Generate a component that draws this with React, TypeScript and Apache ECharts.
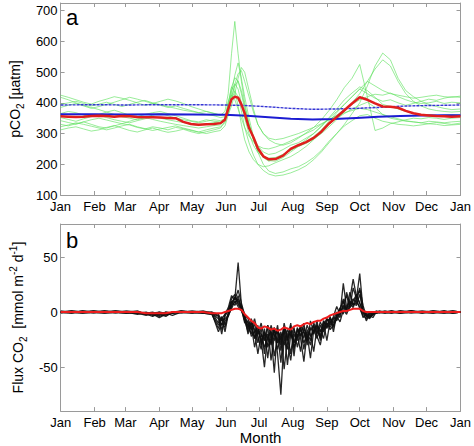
import { useEffect, useRef } from "react";
import * as echarts from "echarts";

// ---- axes ----
const MONTHS = ["Jan", "Feb", "Mar", "Apr", "May", "Jun", "Jul", "Aug", "Sep", "Oct", "Nov", "Dec", "Jan"];
const MONTH_START = [0, 31, 59, 90, 120, 151, 181, 212, 243, 273, 304, 334, 365];
const PCO2_TICKS = [100, 200, 300, 400, 500, 600, 700];
const FLUX_TICKS = [-50, 0, 50];

// ---- panel a: surface pCO2 (uatm), one line per year ----
const pco2Days = [
  0, 7, 14, 21, 28, 35, 42, 49, 56, 63, 70, 77, 84, 91, 98, 105, 112, 119, 126, 133, 140,
  146, 150, 153, 156, 159, 162, 165, 168, 172, 176, 180, 185, 190, 196,
  203, 210, 217, 224, 231, 238, 245, 252, 259, 266, 273, 280, 287, 294, 301, 308, 315, 322, 329, 336, 343, 350, 357,
  365,
];

const pco2Year1 = [
  425, 418, 410, 402, 396, 405, 412, 420, 415, 408, 400, 392, 398, 405, 412, 406, 398, 388, 380, 372, 365,
  360, 372, 430, 560, 665, 560, 470, 400, 330, 280, 245, 222, 210, 218,
  232, 245, 262, 280, 300, 322, 350, 372, 395, 420, 445, 430, 415, 405, 410, 400, 392, 398, 405, 412, 408, 415, 420,
  418,
];
const pco2Year2 = [
  330, 325, 332, 338, 330, 322, 318, 325, 332, 328, 320, 315, 322, 318, 312, 320, 316, 310, 305, 312, 318,
  322, 335, 370, 430, 490, 530, 480, 420, 350, 290, 240, 200, 178, 170,
  175, 185, 192, 205, 222, 245, 275, 300, 330, 365, 400, 455, 520, 562, 540, 480, 440, 420, 405, 395, 388, 382, 378,
  380,
];
const pco2Year3 = [
  365, 372, 368, 360, 355, 362, 370, 376, 368, 360, 355, 362, 368, 372, 365, 358, 350, 342, 338, 345, 340,
  338, 350, 395, 450, 482, 470, 430, 380, 330, 290, 260, 240, 232, 236,
  248, 262, 270, 285, 300, 325, 352, 380, 410, 432, 452, 440, 418, 395, 388, 380, 372, 366, 360, 362, 358, 360, 362,
  360,
];
const pco2Year4 = [
  312, 318, 322, 315, 308, 312, 320, 326, 318, 310, 305, 312, 318, 310, 304, 308, 314, 306, 300, 306, 312,
  318, 340, 400, 452, 440, 390, 330, 280, 240, 215, 200, 192, 195, 205,
  215, 225, 240, 258, 280, 305, 330, 350, 365, 380, 392, 402, 385, 362, 350, 345, 340, 338, 335, 340, 338, 335, 338,
  340,
];
const pco2Year5 = [
  385, 392, 398, 390, 382, 388, 395, 402, 410, 418, 412, 405, 398, 392, 385, 390, 382, 375, 368, 372, 366,
  360, 362, 375, 410, 460, 495, 505, 470, 420, 370, 330, 300, 280, 268,
  262, 270, 285, 302, 320, 345, 375, 410, 450, 480, 525, 420, 310, 318, 332, 338, 345, 350, 348, 352, 350, 346, 350,
  352,
];
const pco2Year6 = [
  342, 336, 330, 338, 345, 350, 344, 338, 332, 340, 348, 352, 346, 340, 335, 330, 326, 322, 318, 322, 326,
  328, 345, 405, 425, 410, 380, 350, 320, 292, 272, 260, 252, 250, 256,
  265, 276, 288, 300, 312, 330, 345, 358, 368, 375, 382, 378, 370, 362, 355, 348, 342, 338, 335, 332, 336, 333, 330,
  334,
];
const pco2Year7 = [
  418, 410, 400, 392, 385, 378, 370, 362, 355, 350, 345, 352, 360, 366, 358, 350, 345, 340, 335, 340, 345,
  342, 348, 372, 420, 455, 472, 440, 390, 330, 280, 245, 225, 212, 210,
  222, 240, 258, 272, 290, 312, 340, 368, 395, 420, 445, 470, 455, 440, 430, 425, 420, 415, 418, 422, 425, 420, 418,
  422,
];
const pco2Year8 = [
  322, 328, 335, 330, 324, 318, 312, 318, 325, 330, 322, 316, 310, 315, 320, 325, 318, 312, 305, 300, 306,
  310, 325, 360, 410, 438, 420, 375, 320, 270, 230, 200, 180, 168, 162,
  165, 172, 182, 195, 215, 240, 270, 300, 325, 342, 358, 362, 350, 340, 335, 330, 328, 325, 328, 332, 330, 326, 328,
  330,
];
const pco2Year9 = [
  395, 400, 405, 398, 390, 396, 402, 395, 388, 395, 402, 408, 400, 394, 388, 382, 376, 372, 368, 362, 358,
  352, 355, 362, 390, 430, 480, 515, 500, 440, 380, 330, 300, 285, 280,
  284, 292, 300, 310, 320, 332, 345, 360, 378, 395, 410, 420, 428, 425, 432, 420, 410, 402, 398, 400, 405, 398, 402,
  400,
];
const pco2Year10 = [
  352, 346, 340, 348, 355, 360, 352, 345, 340, 335, 342, 348, 355, 350, 345, 340, 336, 330, 326, 332, 336,
  335, 345, 385, 440, 462, 445, 400, 350, 300, 262, 238, 225, 220, 222,
  232, 246, 258, 268, 282, 300, 322, 345, 372, 400, 430, 470, 510, 540, 520, 470, 430, 405, 390, 380, 375, 372, 370,
  372,
];
const pco2Years = [
  pco2Year1, pco2Year2, pco2Year3, pco2Year4, pco2Year5,
  pco2Year6, pco2Year7, pco2Year8, pco2Year9, pco2Year10,
];

const pco2Mean = [
  356, 355, 354, 355, 357, 358, 357, 355, 357, 356, 354, 353, 353, 352, 351, 350, 338, 331, 329, 330, 331,
  334, 345, 380, 412, 420, 417, 395, 366, 318, 288, 252, 226, 216, 217,
  228, 250, 262, 272, 286, 306, 333, 354, 376, 398, 418, 410, 398, 388, 387, 384, 374, 366, 361, 359, 357, 356, 355,
  356,
];

// atmospheric reference curves
const refDays = [0, 30, 60, 90, 120, 150, 170, 190, 210, 230, 250, 270, 290, 310, 330, 350, 365];
const atmPco2 = [393, 394, 393, 394, 394, 393, 391, 387, 382, 379, 380, 382, 385, 389, 391, 392, 393];
const refPco2 = [363, 363, 362, 363, 362, 361, 358, 353, 348, 346, 347, 351, 355, 357, 359, 360, 360];

// ---- panel b: CO2 flux (mmol m-2 d-1), one line per year ----
const fluxDays = [
  0, 10, 20, 30, 40, 50, 60, 70, 78, 84, 90, 96, 102, 110, 120, 130, 138,
  144, 147, 150, 153, 156, 159, 162, 165, 168, 171, 174, 177, 180, 183, 186, 189, 192, 195, 198, 201,
  204, 207, 210, 213, 216, 219, 222, 225, 228, 231, 234, 237, 240, 243, 246, 249, 252, 255, 258, 261,
  264, 267, 270, 273, 276, 279, 282, 285, 288, 291,
  296, 302, 310, 320, 330, 340, 350, 358, 365,
];

const fluxYear1 = [
  0, 1, 0, -1, 0, 1, 0, -1, -3, -1, 0, -2, 0, 1, 0, -1, -2,
  -15, -5, -18, -2, 8, 12, 45, 6, -8, -12, -20, -10, -28, -14, -38, -12, -20, -55, -15, -30,
  -10, -25, -12, -40, -14, -22, -10, -30, -8, -18, -12, -22, -8, -15, -5, -10, -3, -2, 5, 0,
  8, 4, 12, 35, 2, -3, -5, -2, 0, 1,
  0, -1, 1, 0, -1, 1, 0, -1, 0,
];
const fluxYear2 = [
  0, -1, 0, 1, 0, 0, -1, 0, -2, -4, -1, -3, -1, 0, 1, 0, -1,
  -3, -16, -8, -4, 5, 14, 10, 4, -6, -16, -9, -24, -12, -30, -15, -42, -18, -26, -12, -35,
  -16, -48, -20, -28, -15, -24, -45, -18, -26, -12, -20, -9, -16, -6, -12, -4, 5, -2, 26, 4,
  10, 6, 15, 8, 0, -4, -1, -3, 0, 0,
  1, 0, -1, 0, 1, 0, -1, 0, 0,
];
const fluxYear3 = [
  1, 0, -1, 0, 1, 0, 0, -1, 0, -2, -5, -2, 0, -1, 0, 1, -1,
  -18, -10, -14, 0, 10, 6, 15, 2, -4, -20, -12, -32, -18, -25, -50, -20, -30, -15, -38, -75,
  -22, -34, -16, -28, -20, -36, -14, -22, -30, -10, -16, -24, -8, -14, -4, -18, -2, 3, 10, 2,
  18, 6, 9, 5, -5, -2, -4, 0, -1, 0,
  -1, 0, 1, 0, 0, -1, 1, 0, 0,
];
const fluxYear4 = [
  0, 0, 1, 0, -1, 0, 1, 0, -1, 0, -3, 0, -1, 0, -1, 0, -1,
  -6, -20, -4, 2, 12, 16, 8, 3, -10, -8, -22, -18, -14, -26, -20, -32, -24, -14, -28, -20,
  -52, -24, -18, -32, -22, -16, -28, -20, -42, -16, -24, -12, -18, -10, -14, -7, 0, -5, 8, 15,
  4, 22, 12, 3, -3, -6, 0, -2, 1, 0,
  0, 1, 0, -1, 0, 0, 1, -1, 0,
];
const fluxYear5 = [
  -1, 0, 0, 1, 0, -1, 0, 1, -2, -1, -2, -4, 0, 0, -1, 0, 0,
  -10, -4, -12, -2, 6, 9, 12, 5, -2, -14, -6, -18, -38, -20, -26, -12, -44, -22, -16, -26,
  -14, -20, -38, -16, -24, -12, -18, -26, -14, -20, -8, -26, -12, -6, -10, -5, -8, -1, 6, 2,
  12, 30, 14, 20, -2, -1, -3, -5, 0, -1,
  0, 0, -1, 1, 0, -1, 0, 1, 0,
];
const fluxYear6 = [
  0, 1, 0, 0, -1, 0, -1, 0, -1, -2, 0, -1, -3, 0, 0, -1, 0,
  -2, -8, -6, -3, 3, 10, 5, 1, -5, -10, -16, -6, -20, -10, -24, -30, -12, -22, -18, -46,
  -14, -26, -10, -34, -18, -14, -24, -12, -20, -36, -14, -18, -10, -26, -8, -12, -4, -9, 2, -2,
  6, 10, 16, 8, 1, -8, -2, -1, 0, 0,
  0, -1, 0, 1, 0, 0, -1, 0, 0,
];
const fluxYear7 = [
  0, -1, 1, 0, 0, 1, 0, -2, -1, -3, -2, 0, -1, 1, 0, 0, -1,
  -4, -12, -2, 4, 15, 11, 20, 8, -3, -6, -14, -24, -16, -20, -32, -24, -16, -40, -24, -18,
  -30, -16, -22, -14, -32, -20, -18, -26, -16, -12, -22, -30, -14, -10, -16, -12, -6, 4, -2, 18,
  7, 12, 9, 22, 6, -4, -6, -2, -1, 0,
  -1, 0, 0, 1, -1, 0, 0, 1, 0,
];
const fluxYear8 = [
  0, 0, -1, 0, 1, 0, -1, 0, -2, -1, -4, -2, -1, 0, 0, -1, -2,
  -12, -6, -2, 1, 9, 13, 7, 2, -8, -18, -10, -16, -22, -34, -18, -24, -28, -16, -34, -22,
  -18, -28, -44, -20, -26, -14, -34, -16, -22, -18, -12, -16, -24, -8, -6, -14, -3, 2, 12, 0,
  4, 8, 6, 16, 2, -3, -5, 0, -1, 0,
  0, 1, -1, 0, 0, 1, 0, -1, 0,
];
const fluxYears = [
  fluxYear1, fluxYear2, fluxYear3, fluxYear4,
  fluxYear5, fluxYear6, fluxYear7, fluxYear8,
];

const fluxMean = [
  0, 0, 0, 0, 0, 0, 0, 0, -1, -1, -1, -1, 0, 0, 0, 0, -1,
  -1, -1, 0, 1, 2, 3, 3, 2, -2, -5, -8, -10, -14, -15, -13, -14, -16, -15, -17, -16,
  -14, -15, -16, -13, -12, -13, -11, -10, -11, -9, -8, -8, -6, -5, -3, -2, -1, 0, 1, 1,
  2, 3, 3, 3, 1, 0, 0, 0, 0, 0,
  0, 0, 0, 0, 0, 0, 0, 0, 0,
];

// ---- styling ----
const FONT = "'Liberation Sans', Arial, Helvetica, sans-serif";
const FRAME = "#9a9a9a";

const pairs = (xs: number[], ys: number[]) => xs.map((x, i) => [x, ys[i]]);

const monthAxis = (gridIndex: number, position: "top" | "bottom", labelled: boolean, extra: object = {}) => ({
  type: "value",
  gridIndex,
  min: 0,
  max: 365,
  position,
  axisLine: { show: true, onZero: false, lineStyle: { color: FRAME, width: 1 } },
  axisTick: { show: true, inside: true, length: 4, customValues: MONTH_START, lineStyle: { color: FRAME } },
  axisLabel: {
    show: labelled,
    customValues: MONTH_START,
    formatter: (v: number) => MONTHS[MONTH_START.indexOf(Math.round(v))] ?? "",
    color: "#000",
    fontSize: 13,
    fontFamily: FONT,
    margin: 5,
  },
  splitLine: { show: false },
  ...extra,
});

const valueAxis = (
  gridIndex: number,
  position: "left" | "right",
  min: number,
  max: number,
  ticks: number[],
  extra: object = {}
) => ({
  type: "value",
  gridIndex,
  min,
  max,
  position,
  axisLine: { show: true, onZero: false, lineStyle: { color: FRAME, width: 1 } },
  axisTick: { show: true, inside: true, length: 4, customValues: ticks, lineStyle: { color: FRAME } },
  axisLabel: {
    show: position === "left",
    customValues: ticks,
    color: "#000",
    fontSize: 13,
    fontFamily: FONT,
    margin: 3,
  },
  splitLine: { show: false },
  ...extra,
});

const nameRich = {
  t: { fontSize: 14, fontFamily: FONT, color: "#000", lineHeight: 20 },
  sub: { fontSize: 10, fontFamily: FONT, color: "#000", lineHeight: 10, verticalAlign: "bottom" },
  sup: { fontSize: 10, fontFamily: FONT, color: "#000", lineHeight: 10, verticalAlign: "top" },
};

export default function App() {
  const ref = useRef<HTMLDivElement>(null);

  useEffect(() => {
    if (!ref.current) return;
    const chart = echarts.init(ref.current, null, { renderer: "svg" });

    const greenSeries = pco2Years.map((ys, k) => ({
      name: `pCO2 ${k + 1}`,
      type: "line",
      xAxisIndex: 0,
      yAxisIndex: 0,
      data: pairs(pco2Days, ys),
      showSymbol: false,
      symbol: "none",
      lineStyle: { color: "rgba(95, 225, 95, 0.8)", width: 0.8 },
      silent: true,
    }));

    const blackSeries = fluxYears.map((ys, k) => ({
      name: `flux ${k + 1}`,
      type: "line",
      xAxisIndex: 2,
      yAxisIndex: 2,
      data: pairs(fluxDays, ys),
      showSymbol: false,
      symbol: "none",
      lineStyle: { color: "rgba(15, 15, 15, 0.9)", width: 1.3 },
      silent: true,
    }));

    chart.setOption({
      animation: false,
      backgroundColor: "#fff",
      grid: [
        { left: 54, top: 3, width: 408, height: 192 },
        { left: 54, top: 224, width: 408, height: 193 },
      ],
      xAxis: [
        monthAxis(0, "bottom", true),
        monthAxis(0, "top", false),
        monthAxis(1, "bottom", true, {
          name: "Month",
          nameLocation: "middle",
          nameGap: 15,
          nameTextStyle: { fontSize: 15, fontFamily: FONT, color: "#000" },
        }),
        monthAxis(1, "top", false),
      ],
      yAxis: [
        valueAxis(0, "left", 100, 725, PCO2_TICKS, {
          name: "{t|pCO}{sub|2}{t| [µatm]}",
          nameLocation: "middle",
          nameRotate: 90,
          nameGap: 29,
          nameTextStyle: { rich: nameRich },
        }),
        valueAxis(0, "right", 100, 725, PCO2_TICKS),
        valueAxis(1, "left", -90, 80, FLUX_TICKS, {
          name: "{t|Flux CO}{sub|2}{t|  [mmol m}{sup|-2}{t| d}{sup|-1}{t|]}",
          nameLocation: "middle",
          nameRotate: 90,
          nameGap: 29,
          nameTextStyle: { rich: nameRich },
        }),
        valueAxis(1, "right", -90, 80, FLUX_TICKS),
      ],
      graphic: [
        {
          type: "text",
          x: 66,
          y: 17,
          style: { text: "a", fontSize: 22, fontFamily: FONT, fill: "#000", verticalAlign: "middle" },
        },
        {
          type: "text",
          x: 66,
          y: 240,
          style: { text: "b", fontSize: 22, fontFamily: FONT, fill: "#000", verticalAlign: "middle" },
        },
      ],
      series: [
        ...greenSeries,
        {
          name: "atmosphere",
          type: "line",
          xAxisIndex: 0,
          yAxisIndex: 0,
          data: pairs(refDays, atmPco2),
          showSymbol: false,
          symbol: "none",
          lineStyle: { color: "#3535d4", width: 1.4, type: [3, 1] },
          silent: true,
        },
        {
          name: "reference",
          type: "line",
          xAxisIndex: 0,
          yAxisIndex: 0,
          data: pairs(refDays, refPco2),
          showSymbol: false,
          symbol: "none",
          lineStyle: { color: "#1c1cd2", width: 2 },
          silent: true,
        },
        {
          name: "pCO2 mean",
          type: "line",
          xAxisIndex: 0,
          yAxisIndex: 0,
          data: pairs(pco2Days, pco2Mean),
          showSymbol: false,
          symbol: "none",
          lineStyle: { color: "#e01e1e", width: 2.5 },
          silent: true,
        },
        ...blackSeries,
        {
          name: "flux mean",
          type: "line",
          xAxisIndex: 2,
          yAxisIndex: 2,
          data: pairs(fluxDays, fluxMean),
          showSymbol: false,
          symbol: "none",
          lineStyle: { color: "#ee1c1c", width: 2 },
          silent: true,
        },
      ],
    });

    return () => chart.dispose();
  }, []);

  return (
    <div
      ref={ref}
      style={{ position: "fixed", left: 0, top: 0, width: 474, height: 446, background: "#fff" }}
    />
  );
}
